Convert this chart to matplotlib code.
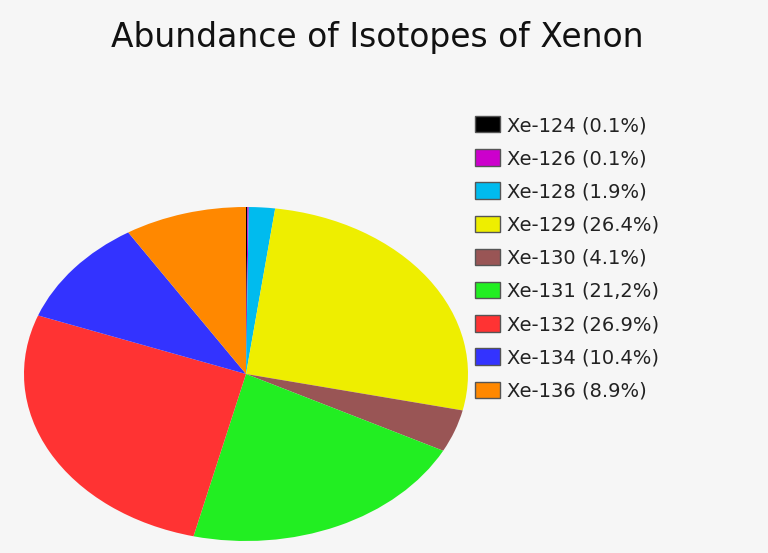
import matplotlib
matplotlib.use("Agg")
import matplotlib.pyplot as plt
from matplotlib.patches import Patch

labels = ["Xe-124", "Xe-126", "Xe-128", "Xe-129", "Xe-130", "Xe-131", "Xe-132", "Xe-134", "Xe-136"]
values = [0.1, 0.1, 1.9, 26.4, 4.1, 21.2, 26.9, 10.4, 8.9]
value_text = ["0.1%", "0.1%", "1.9%", "26.4%", "4.1%", "21,2%", "26.9%", "10.4%", "8.9%"]
colors = ["#000000", "#cc00cc", "#00bbee", "#eeee00", "#995555", "#22ee22", "#ff3333", "#3333ff", "#ff8800"]
title = "Abundance of Isotopes of Xenon"

W, H = 768, 553
bg = "#f6f6f6"
fig = plt.figure(figsize=(W / 100, H / 100), dpi=100, facecolor=bg)

ax = fig.add_axes([24 / W, (H - 541) / H, 444 / W, 334 / H])
ax.set_facecolor(bg)
ax.pie(values, colors=colors, startangle=90, counterclock=False,
       wedgeprops=dict(linewidth=0, antialiased=True))
ax.set_xlim(-1, 1)
ax.set_ylim(-1, 1)
ax.set_aspect("auto")
ax.axis("off")

fig.text(377 / W, (H - 37) / H, title, ha="center", va="center",
         fontsize=23.7, family="DejaVu Sans", color="#111111")

handles = [Patch(facecolor=c, edgecolor="#555555", linewidth=1) for c in colors]
leg_labels = [f"{l} ({v})" for l, v in zip(labels, value_text)]
leg = fig.legend(handles, leg_labels, loc="upper left",
                 bbox_to_anchor=(475 / W, (H - 116) / H),
                 frameon=False, prop=dict(family="DejaVu Sans", size=14),
                 handlelength=1.29, handleheight=0.92, handletextpad=0.36,
                 labelspacing=0.73, borderaxespad=0, borderpad=0)
for t in leg.get_texts():
    t.set_color("#222222")

fig.savefig("out.png", dpi=100, facecolor=bg)
